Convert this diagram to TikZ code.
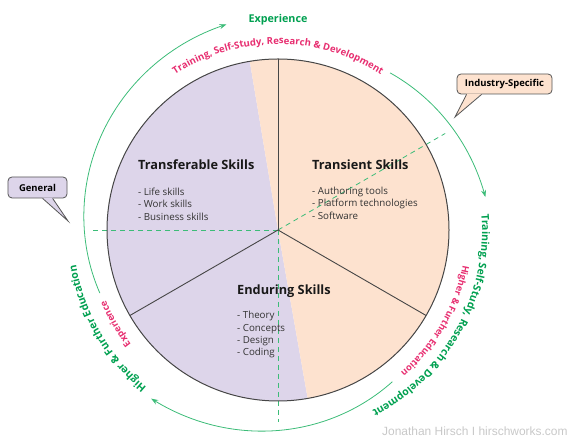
\documentclass[tikz,border=0pt]{standalone}
\usepackage{fontspec}
\setmainfont{Open Sans}
\newfontfamily\wmfont{Liberation Sans}
\usetikzlibrary{decorations.text,arrows.meta,calc}
\definecolor{purp}{RGB}{221,213,234}
\definecolor{peach}{RGB}{253,226,207}
\definecolor{rimc}{RGB}{70,70,70}
\definecolor{greent}{RGB}{0,160,80}
\definecolor{greenl}{RGB}{60,188,120}
\definecolor{pinkc}{RGB}{231,46,112}
\definecolor{wmc}{RGB}{200,200,200}
\definecolor{cbord}{RGB}{85,85,85}
\tikzset{
  title/.style={anchor=base west,inner sep=0pt,font=\fontsize{12.8}{14}\selectfont\bfseries,text=black!90},
  item/.style={anchor=base west,inner sep=0pt,font=\fontsize{9.8}{11}\selectfont,text=black!80},
  callbox/.style={draw=cbord,line width=0.8bp,rounded corners=4bp,inner sep=0pt,font=\fontsize{9.5}{11}\selectfont\bfseries},
  garrow/.style={draw=greenl,line width=0.8bp,-{Stealth[length=7bp,width=5bp]}},
  gdash/.style={draw=greenl,line width=0.8bp,dash pattern=on 5bp off 4bp},
}
\begin{document}
\begin{tikzpicture}[x=1bp,y=1bp]
\useasboundingbox (0,0) rectangle (580,447);
\coordinate (C) at (278,217);
\begin{scope}[shift={(C)}]
  % fills
  \fill[purp] (0,0) -- (99.5:171) arc[start angle=99.5,end angle=280,radius=171] -- cycle;
  \fill[peach] (0,0) -- (-80:171) arc[start angle=-80,end angle=99.5,radius=171] -- cycle;
  % dashed bisectors
  \draw[gdash] (0,0) -- (180:188);
  \draw[gdash] (0,0) -- (270:192);
  \draw[gdash] (0,0) -- (30:193);
  % radial lines
  \draw[rimc,line width=0.9bp] (0,0) -- (90:171);
  \draw[rimc,line width=0.9bp] (0,0) -- (-30:171);
  \draw[rimc,line width=0.9bp] (0,0) -- (210:171);
  \draw[rimc,line width=1bp] (0,0) circle[radius=171];
  % arcs
  \draw[garrow] plot[domain=0:1,samples=60,variable=\t] ({(189+23*\t)*cos(199.5-95.5*\t)},{(189+23*\t)*sin(199.5-95.5*\t)});
  \draw[garrow] plot[domain=0:1,samples=60,variable=\t] ({(193+17*\t)*cos(54.5-45.5*\t)},{(193+17*\t)*sin(54.5-45.5*\t)});
  \draw[garrow] plot[domain=0:1,samples=60,variable=\t] ({(190+21*\t)*cos(-53-74*\t)},{(190+21*\t)*sin(-53-74*\t)});
  % curved texts
  \path[decorate,decoration={text along path,text align=center,
    text={|\fontsize{9.6}{10}\selectfont\bfseries\color{pinkc}|Training, Self-Study, Research {\&} Development}}]
    (130:186) arc[start angle=130,end angle=50,radius=186];
  \path[decorate,decoration={text along path,text align=center,
    text={|\fontsize{10.5}{11}\selectfont\bfseries\color{greent}|Training, Self-Study, Research {\&} Development}}]
    (15:204) arc[start angle=15,end angle=-73,radius=204];
  \path[decorate,decoration={text along path,text align=center,
    text={|\fontsize{9.3}{10}\selectfont\bfseries\color{pinkc}|Higher {\&} Further Education}}]
    (10:188) arc[start angle=10,end angle=-70,radius=188];
  \path[decorate,decoration={text along path,text align=center,
    text={|\fontsize{10.6}{11}\selectfont\bfseries\color{greent}|Higher {\&} Further Education}}]
    (251:205) arc[start angle=251,end angle=169,radius=205];
  \path[decorate,decoration={text along path,text align=center,
    text={|\fontsize{9.3}{10}\selectfont\bfseries\color{pinkc}|Experience}}]
    (230:186) arc[start angle=230,end angle=190,radius=186];
\end{scope}
% top label
\node[anchor=base,inner sep=0pt,font=\fontsize{10.8}{12}\selectfont\bfseries,text=greent] (exp) at (278,424) {Experience};
% sector texts
\node[title] (tt) at (138,277) {Transferable Skills};
\node[item] (t1) at (138,251) {- Life skills};
\node[item] (t2) at (138,239) {- Work skills};
\node[item] (t3) at (138,226) {- Business skills};
\node[title] (st) at (312,277) {Transient Skills};
\node[item] (s1) at (312,252) {- Authoring tools};
\node[item] (s2) at (312,240) {- Platform technologies};
\node[item] (s3) at (312,227) {- Software};
\node[title] (et) at (237,152) {Enduring Skills};
\node[item] (e1) at (237,128) {- Theory};
\node[item] (e2) at (237,115) {- Concepts};
\node[item] (e3) at (237,103) {- Design};
\node[item] (e4) at (237,91) {- Coding};
% callouts
\node[callbox,fill=peach,minimum width=95bp,minimum height=20bp] (ind) at (504.5,363) {Industry-Specific};
\coordinate (indtip) at (455,330);
\fill[peach] ($(ind.south west)+(10,0.7)$) -- (indtip) -- ($(ind.south west)+(25,0.7)$) -- cycle;
\draw[cbord,line width=0.8bp] ($(ind.south west)+(10,0)$) -- (indtip) -- ($(ind.south west)+(25,0)$);
\node[callbox,fill=purp,minimum width=59bp,minimum height=21bp] (gen) at (37.5,259.5) {General};
\coordinate (gentip) at (68,226);
\fill[purp] ($(gen.south west)+(35,0.7)$) -- (gentip) -- ($(gen.south west)+(45,0.7)$) -- cycle;
\draw[cbord,line width=0.8bp] ($(gen.south west)+(35,0)$) -- (gentip) -- ($(gen.south west)+(45,0)$);
% watermark
\node[anchor=base west,inner sep=0pt,font=\wmfont\fontsize{12}{13}\selectfont,text=wmc] (wm) at (382,11) {Jonathan Hirsch I hirschworks.com};
\end{tikzpicture}
\end{document}
